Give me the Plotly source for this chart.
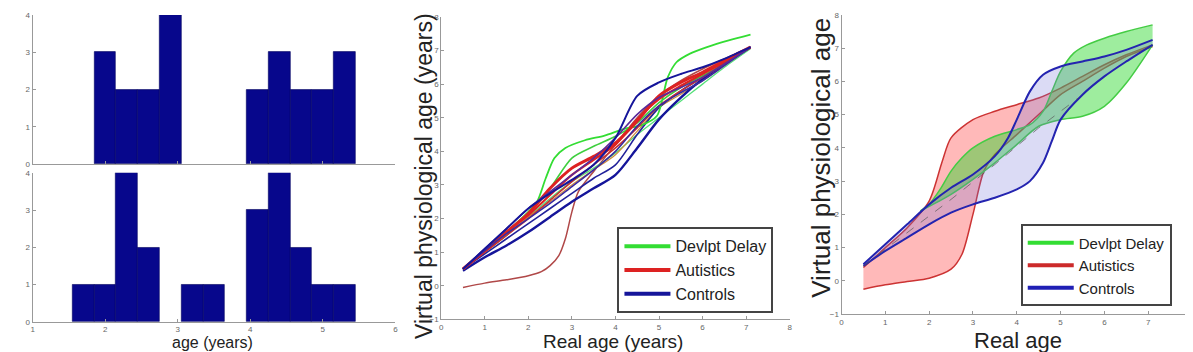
import plotly.graph_objects as go

W, H = 1193, 352
FONT = "Liberation Sans, Arial, sans-serif"

# ---------------- histogram data ----------------
bin_centers = [1.7, 2.0, 2.3, 2.6, 2.9, 3.2, 3.5, 3.8, 4.1, 4.4, 4.7, 5.0, 5.3]
top_counts = [0, 3, 2, 2, 4, 0, 0, 0, 2, 3, 2, 2, 3]
bottom_counts = [1, 1, 4, 2, 0, 1, 1, 0, 3, 4, 2, 1, 1]
hist_xticks = [1, 2, 3, 4, 5, 6]
hist_yticks = [0, 1, 2, 3, 4]

# ---------------- middle panel curves (real age -> virtual age) ----------------
grid_x = [0.5, 1.0, 1.5, 2.0, 2.5, 3.0, 3.5, 4.0, 4.5, 5.0, 5.5, 6.0, 6.5, 7.1]

delay_high_x = [0.5, 1.0, 1.5, 2.0, 2.2, 2.4, 2.6, 2.85, 3.3, 3.75, 4.2, 4.6, 4.95, 5.2, 5.4, 5.7, 6.1, 6.6, 7.1]
delay_high_y = [0.5, 1.05, 1.6, 2.2, 2.5, 3.2, 3.8, 4.1, 4.33, 4.47, 4.67, 4.78, 5.05, 6.2, 6.65, 6.9, 7.1, 7.3, 7.47]
delay_mid_y = [0.5, 1.05, 1.6, 2.15, 2.9, 3.8, 4.15, 4.45, 4.85, 5.45, 5.9, 6.25, 6.6, 7.1]
delay_low_y = [0.5, 1.0, 1.5, 2.05, 2.6, 3.1, 3.5, 3.95, 4.5, 5.0, 5.5, 6.0, 6.5, 7.05]

aut_1_y = [0.5, 1.05, 1.6, 2.15, 2.9, 3.5, 3.85, 4.25, 4.9, 5.65, 6.05, 6.35, 6.7, 7.1]
aut_2_y = [0.5, 1.05, 1.6, 2.1, 2.7, 3.3, 3.75, 4.2, 4.95, 5.55, 5.95, 6.3, 6.65, 7.1]
aut_3_y = [0.5, 1.0, 1.5, 2.0, 2.55, 3.1, 3.6, 4.1, 4.7, 5.35, 5.8, 6.2, 6.6, 7.1]
aut_4_y = [0.5, 1.0, 1.5, 2.05, 2.5, 3.0, 3.45, 3.9, 4.6, 5.3, 5.7, 6.1, 6.55, 7.1]
aut_out_x = [0.5, 1.0, 1.5, 2.0, 2.3, 2.5, 2.7, 2.85, 3.0, 3.15, 3.5, 4.0, 4.5, 5.0, 5.5, 6.0, 6.5, 7.1]
aut_out_y = [-0.05, 0.08, 0.18, 0.3, 0.42, 0.6, 0.9, 1.4, 2.2, 2.8, 3.4, 4.2, 5.0, 5.65, 6.1, 6.45, 6.75, 7.1]

ctl_1_y = [0.45, 0.85, 1.2, 1.6, 2.05, 2.5, 2.9, 3.3, 4.1, 4.95, 5.6, 6.15, 6.6, 7.1]
ctl_2_y = [0.5, 0.95, 1.4, 1.85, 2.3, 2.75, 3.2, 3.6, 4.5, 5.3, 5.8, 6.2, 6.6, 7.1]
ctl_3_y = [0.5, 1.1, 1.7, 2.3, 2.75, 3.15, 3.6, 4.4, 5.65, 6.05, 6.3, 6.5, 6.75, 7.1]
ctl_4_y = [0.5, 1.1, 1.7, 2.3, 2.8, 3.3, 3.8, 4.4, 5.1, 5.6, 5.9, 6.2, 6.6, 7.1]
ctl_5_y = [0.5, 1.05, 1.55, 2.0, 2.45, 2.95, 3.45, 4.0, 4.75, 5.35, 5.75, 6.1, 6.55, 7.1]

# ---------------- right panel bands ----------------
aut_up_x = [0.5, 1.0, 1.5, 2.0, 2.3, 2.5, 3.0, 3.5, 4.0, 4.5, 5.0, 5.5, 6.0, 6.5, 7.1]
aut_up_y = [0.4, 1.0, 1.6, 2.4, 3.6, 4.3, 4.85, 5.1, 5.3, 5.5, 5.8, 6.15, 6.5, 6.8, 7.1]
aut_lo_x = [0.5, 1.0, 1.5, 2.0, 2.5, 2.75, 3.0, 3.25, 3.5, 4.0, 4.5, 5.0, 5.5, 6.0, 6.5, 7.1]
aut_lo_y = [-0.25, -0.12, -0.02, 0.08, 0.35, 0.8, 2.0, 3.3, 3.8, 4.4, 5.0, 5.6, 6.0, 6.4, 6.75, 7.05]

del_up_x = [1.8, 2.0, 2.25, 2.5, 2.75, 3.0, 3.5, 4.0, 4.3, 4.6, 4.8, 5.0, 5.3, 5.6, 6.0, 6.5, 7.1]
del_up_y = [2.1, 2.3, 2.75, 3.3, 3.7, 4.0, 4.35, 4.55, 4.7, 5.1, 5.7, 6.3, 6.85, 7.1, 7.3, 7.5, 7.7]
del_lo_x = [1.8, 2.5, 3.0, 3.5, 4.0, 4.5, 5.0, 5.5, 6.0, 6.5, 7.1]
del_lo_y = [2.1, 2.6, 3.05, 3.55, 4.1, 4.65, 4.85, 4.95, 5.25, 5.95, 7.1]

ctl_up_x = [0.5, 1.0, 1.5, 2.0, 2.5, 3.0, 3.5, 3.8, 4.0, 4.3, 4.6, 5.0, 5.5, 6.0, 6.5, 7.1]
ctl_up_y = [0.5, 1.1, 1.7, 2.3, 2.8, 3.2, 3.75, 4.3, 4.85, 5.7, 6.2, 6.45, 6.6, 6.75, 6.95, 7.25]
ctl_lo_x = [0.5, 1.0, 1.5, 2.0, 2.5, 3.0, 3.5, 4.0, 4.3, 4.6, 4.8, 5.0, 5.5, 6.0, 6.5, 7.1]
ctl_lo_y = [0.45, 0.9, 1.3, 1.7, 2.05, 2.3, 2.5, 2.75, 3.0, 3.55, 4.2, 4.85, 5.6, 6.15, 6.6, 7.1]

mean_x = [0.5, 1.5, 2.5, 3.5, 4.5, 5.4]
mean_y = [0.45, 1.45, 2.45, 3.5, 4.6, 5.5]

panel_ticks = [-1, 0, 1, 2, 3, 4, 5, 6, 7, 8]
panel_xticks = [0, 1, 2, 3, 4, 5, 6, 7, 8]

GREEN = "#33dd33"
RED = "#dd2222"
BLUE = "#15159a"

fig = go.Figure()

def px2x(p):
    return p / W

def py2y(p):
    return 1 - p / H

# histograms
for counts, xa, ya in [(top_counts, "x", "y"), (bottom_counts, "x2", "y2")]:
    fig.add_trace(go.Bar(x=bin_centers, y=counts, width=0.3, xaxis=xa, yaxis=ya,
                         marker=dict(color="#07078c",
                                     line=dict(color="#00005c",
                                               width=[0.6 if c > 0 else 0 for c in counts])),
                         showlegend=False))

def mline(x, y, color, width=2.0):
    fig.add_trace(go.Scatter(x=x, y=y, mode="lines", xaxis="x3", yaxis="y3",
                             line=dict(color=color, width=width, shape="spline", smoothing=0.8),
                             showlegend=False, hoverinfo="skip"))

mline(aut_out_x, aut_out_y, "#b04848", 1.5)
mline(grid_x, delay_low_y, "#55e07a", 1.3)
mline(grid_x, aut_4_y, "#d08a3a", 1.2)
mline(grid_x, ctl_1_y, BLUE, 2.4)
mline(grid_x, ctl_2_y, "#22229a", 1.6)
mline(delay_high_x, delay_high_y, GREEN, 1.8)
mline(grid_x, delay_mid_y, "#3fcf3f", 1.6)
mline(grid_x, aut_3_y, "#c83030", 1.6)
mline(grid_x, aut_2_y, RED, 2.2)
mline(grid_x, aut_1_y, RED, 3.0)
mline(grid_x, ctl_5_y, "#3a2aa0", 1.6)
mline(grid_x, ctl_4_y, "#5a2a9a", 1.6)
mline(grid_x, ctl_3_y, BLUE, 2.0)

# right panel bands
def band(lx, ly, ux, uy, edge, fill, width):
    fig.add_trace(go.Scatter(x=lx, y=ly, mode="lines", xaxis="x4", yaxis="y4",
                             line=dict(color=edge, width=width, shape="spline", smoothing=0.8),
                             showlegend=False, hoverinfo="skip"))
    fig.add_trace(go.Scatter(x=ux, y=uy, mode="lines", xaxis="x4", yaxis="y4",
                             fill="tonexty", fillcolor=fill,
                             line=dict(color=edge, width=width, shape="spline", smoothing=0.8),
                             showlegend=False, hoverinfo="skip"))

band(aut_lo_x, aut_lo_y, aut_up_x, aut_up_y, "#cc3333", "rgba(255,70,70,0.38)", 1.5)
band(del_lo_x, del_lo_y, del_up_x, del_up_y, "#44cc44", "rgba(40,215,40,0.45)", 1.5)
band(ctl_lo_x, ctl_lo_y, ctl_up_x, ctl_up_y, "#2424b0", "rgba(110,110,215,0.25)", 2.0)
fig.add_trace(go.Scatter(x=mean_x, y=mean_y, mode="lines", xaxis="x4", yaxis="y4",
                         line=dict(color="rgba(90,90,90,0.7)", width=1, dash="dash"),
                         showlegend=False, hoverinfo="skip"))

# legends
names = ["Devlpt Delay", "Autistics", "Controls"]
cols_mid = [GREEN, RED, BLUE]
cols_right = [GREEN, "#cc2a2a", "#2020b5"]
for n, c in zip(names, cols_mid):
    fig.add_trace(go.Scatter(x=[None], y=[None], mode="lines", name=n, xaxis="x3", yaxis="y3",
                             line=dict(color=c, width=4), legend="legend"))
for n, c in zip(names, cols_right):
    fig.add_trace(go.Scatter(x=[None], y=[None], mode="lines", name=n, xaxis="x4", yaxis="y4",
                             line=dict(color=c, width=4), legend="legend2"))

tickfont = dict(family=FONT, size=8, color="#666")
axcommon = dict(showline=True, linecolor="#999", linewidth=1, showgrid=False, zeroline=False,
                ticks="inside", ticklen=3, tickcolor="#999", tickfont=tickfont, fixedrange=True)

def ann(text, x, y, size, angle=0):
    return dict(text=text, x=px2x(x), y=py2y(y), xref="paper", yref="paper",
                xanchor="center", yanchor="middle", showarrow=False, textangle=angle,
                font=dict(family=FONT, size=size, color="#222"))

layout = dict(
    width=W, height=H, margin=dict(l=0, r=0, t=0, b=0),
    paper_bgcolor="white", plot_bgcolor="white", bargap=0,
    font=dict(family=FONT),
    xaxis=dict(domain=[px2x(22.7), px2x(387)], range=[1, 6], anchor="y", showticklabels=False,
               tickvals=hist_xticks, **axcommon),
    yaxis=dict(domain=[py2y(156), py2y(3)], range=[0, 4.0], anchor="x", tickvals=hist_yticks, **axcommon),
    xaxis2=dict(domain=[px2x(22.7), px2x(387)], range=[1, 6], anchor="y2", tickvals=hist_xticks, **axcommon),
    yaxis2=dict(domain=[py2y(318), py2y(165)], range=[0, 4.0], anchor="x2", tickvals=hist_yticks, **axcommon),
    xaxis3=dict(domain=[px2x(433), px2x(783)], range=[0, 8], anchor="y3", tickvals=panel_xticks, **axcommon),
    yaxis3=dict(domain=[py2y(315.5), py2y(5)], range=[-1, 8], anchor="x3", tickvals=panel_ticks, **axcommon),
    xaxis4=dict(domain=[px2x(835), px2x(1187)], range=[0, 8], anchor="y4", tickvals=panel_xticks, **axcommon),
    yaxis4=dict(domain=[py2y(310), py2y(3)], range=[-1, 8], anchor="x4", tickvals=panel_ticks, **axcommon),
    legend=dict(x=px2x(610), y=py2y(221), xanchor="left", yanchor="top", bgcolor="white",
                bordercolor="#444", borderwidth=2, itemwidth=46, tracegroupgap=0, traceorder="normal",
                font=dict(family=FONT, size=16, color="#222")),
    legend2=dict(x=px2x(1015), y=py2y(218), xanchor="left", yanchor="top", bgcolor="white",
                 bordercolor="#444", borderwidth=2, itemwidth=46, tracegroupgap=0, traceorder="normal",
                 font=dict(family=FONT, size=15, color="#222")),
    annotations=[
        ann("age (years)", 203, 339, 16),
        ann("Virtual physiological age (years)", 415, 168, 23, -90),
        ann("Real age (years)", 606, 338, 19),
        ann("Virtual physiological age", 815, 150, 26, -90),
        ann("Real age", 1012, 337, 22),
    ],
)
fig.update_layout(**layout)
fig.write_html("out.html")
